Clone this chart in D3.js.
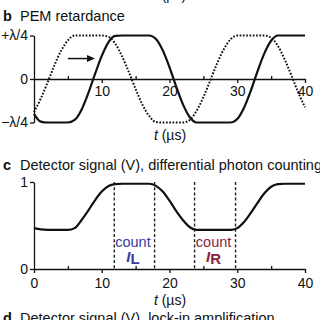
<!DOCTYPE html>
<html><head><meta charset="utf-8">
<script src="https://cdn.jsdelivr.net/npm/d3@7/dist/d3.min.js"></script>
<style>
html,body{margin:0;padding:0;background:#fff;}
svg{display:block;}
</style></head><body>
<svg id="fig" width="320" height="320"></svg>
<script>
// ── data (t in µs) ──
const T=[0,1,2,3,4,5,6,7,8,9,10,11,12,13,14,15,16,17,18,19,20,21,22,23,24,25,26,27,28,29,30,31,32,33,34,35,36,37,38,39,40];
// PEM retardance in units of λ/4 — solid and dotted traces
const RET_SOLID=[-0.80,-0.98,-1,-1,-1,-1,-0.94,-0.71,-0.33,0.11,0.53,0.85,0.99,1,1,1,1,1,0.92,0.66,0.27,-0.18,-0.59,-0.88,-1,-1,-1,-1,-1,-1,-0.92,-0.66,-0.27,0.18,0.59,0.88,1,1,1,1,1];
const RET_DOTTED=[-0.76,-0.45,-0.08,0.31,0.65,0.89,1,1,1,1,1,0.97,0.81,0.52,0.16,-0.23,-0.59,-0.85,-0.99,-1,-1,-1,-1,-0.94,-0.73,-0.42,-0.04,0.35,0.68,0.91,1,1,1,1,1,0.95,0.76,0.45,0.08,-0.31,-0.65];
// detector signal (V)
const DET=[0.47,0.455,0.45,0.45,0.45,0.45,0.47,0.56,0.67,0.79,0.89,0.955,0.975,0.98,0.98,0.98,0.98,0.98,0.955,0.89,0.785,0.665,0.56,0.48,0.45,0.45,0.45,0.45,0.45,0.45,0.47,0.54,0.645,0.76,0.87,0.945,0.975,0.98,0.98,0.98,0.98];
const RET_TICKS=[-1,0,1], RET_LABELS=['\u2212\u03bb/4','0','+\u03bb/4'];
const DET_TICKS=[0,1];
const X_MAJOR_B=[10,20,30,40], X_MAJOR_C=[0,10,20,30,40], X_MINOR=[5,15,25,35];
const ARROW_T=[5,9], ARROW_Y=0.47;
const GATE_T=[11.85,17.8,23.7,29.75];
const GATE_SUB=['L','R'];
const GATE_COL=['#3b3b9e','#8a1f3e'];

const FONT='"Liberation Sans",Arial,Helvetica,sans-serif';
const svg=d3.select('#fig').attr('font-family',FONT);
svg.append('rect').attr('width',320).attr('height',320).attr('fill','#fff');

const x=d3.scaleLinear().domain([0,40]).range([34,305]);
const yB=d3.scaleLinear().domain([-1,1]).range([122.5,35.5]);
const yC=d3.scaleLinear().domain([0,1]).range([269,182]);

function styleAxis(g){
  g.attr('font-family',FONT).attr('font-size',14);
  g.selectAll('path,line').attr('stroke','#111').attr('stroke-width',1.3);
  g.selectAll('text').attr('fill','#111');
}
function title(y,letter,txt){
  const t=svg.append('text').attr('x',3).attr('y',y).attr('font-size',14.5).attr('fill','#111');
  t.append('tspan').attr('font-weight','bold').text(letter);
  t.append('tspan').attr('x',20).text(txt);
}
function tLabel(y){
  const t=svg.append('text').attr('x',170).attr('y',y).attr('text-anchor','middle').attr('font-size',14).attr('fill','#111');
  t.append('tspan').attr('font-style','italic').text('t');
  t.append('tspan').text(' (\u00b5s)');
}

// cropped axis title of panel a at the very top
tLabel(0);

// ── panel b ──
title(21,'b','PEM retardance');
svg.append('g').attr('transform',`translate(${x(0)},0)`)
  .call(d3.axisLeft(yB).tickValues(RET_TICKS).tickFormat((d,i)=>RET_LABELS[i]).tickSize(4).tickPadding(2).tickSizeOuter(0))
  .call(styleAxis);
svg.append('g').attr('transform',`translate(0,${yB(0)})`)
  .call(d3.axisBottom(x).tickValues(X_MAJOR_B).tickSize(4).tickPadding(3).tickSizeOuter(0))
  .call(styleAxis);
svg.append('g').attr('transform',`translate(0,${yB(0)})`)
  .call(d3.axisBottom(x).tickValues(X_MINOR).tickSize(-3).tickFormat(''))
  .call(g=>g.select('.domain').remove()).call(styleAxis);
tLabel(140);

const lineB=d3.line().x((d,i)=>x(T[i])).y(d=>yB(d)).curve(d3.curveMonotoneX);
svg.append('path').attr('d',lineB(RET_DOTTED)).attr('fill','none').attr('stroke','#111')
  .attr('stroke-width',2).attr('stroke-dasharray','1.7,1.6');
svg.append('path').attr('d',lineB(RET_SOLID)).attr('fill','none').attr('stroke','#111').attr('stroke-width',2.2);

// arrow
const ax0=x(ARROW_T[0]),ax1=x(ARROW_T[1]),ay=yB(ARROW_Y);
svg.append('line').attr('x1',ax0).attr('x2',ax1-6).attr('y1',ay).attr('y2',ay).attr('stroke','#111').attr('stroke-width',1.5);
svg.append('path').attr('d',`M${ax1},${ay}L${ax1-8},${ay-3.5}L${ax1-8},${ay+3.5}Z`).attr('fill','#111');

// ── panel c ──
title(170,'c','Detector signal (V), differential photon counting');
svg.append('g').attr('transform',`translate(${x(0)},0)`)
  .call(d3.axisLeft(yC).tickValues(DET_TICKS).tickFormat(d3.format('d')).tickSize(4).tickPadding(2).tickSizeOuter(0))
  .call(styleAxis);
svg.append('g').attr('transform',`translate(0,${yC(0)})`)
  .call(d3.axisBottom(x).tickValues(X_MAJOR_C).tickSize(4).tickPadding(5).tickSizeOuter(0))
  .call(styleAxis);
svg.append('g').attr('transform',`translate(0,${yC(0)})`)
  .call(d3.axisBottom(x).tickValues(X_MINOR).tickSize(-3).tickFormat(''))
  .call(g=>g.select('.domain').remove()).call(styleAxis);
tLabel(304.5);

svg.selectAll('line.gate').data(GATE_T).enter().append('line').attr('class','gate')
  .attr('x1',d=>x(d)).attr('x2',d=>x(d)).attr('y1',yC(1)).attr('y2',yC(0))
  .attr('stroke','#222').attr('stroke-width',1.4).attr('stroke-dasharray','3,2.2');

const lineC=d3.line().x((d,i)=>x(T[i])).y(d=>yC(d)).curve(d3.curveMonotoneX);
svg.append('path').attr('d',lineC(DET)).attr('fill','none').attr('stroke','#111').attr('stroke-width',2.2);

GATE_SUB.forEach((s,k)=>{
  const cx=(x(GATE_T[2*k])+x(GATE_T[2*k+1]))/2-1.5;
  svg.append('text').attr('x',cx).attr('y',247).attr('text-anchor','middle').attr('font-size',14.5)
    .attr('fill',GATE_COL[k]).text('count');
  const t=svg.append('text').attr('x',cx).attr('y',262).attr('text-anchor','middle').attr('font-size',15)
    .attr('font-weight','bold').attr('fill',GATE_COL[k]);
  t.append('tspan').attr('font-style','italic').text('I');
  t.append('tspan').attr('dy',2).text(s);
});

// ── panel d title (cropped at the bottom edge) ──
title(323,'d','Detector signal (V), lock-in amplification');
</script>
</body></html>
